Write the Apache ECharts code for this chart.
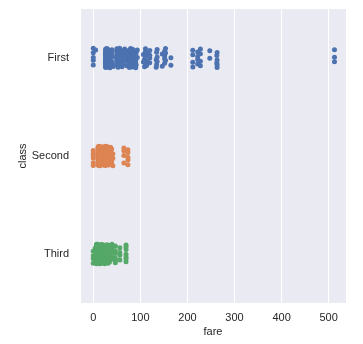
<!DOCTYPE html>
<html><head><meta charset="utf-8">
<script src="https://cdn.jsdelivr.net/npm/echarts@6/dist/echarts.min.js"></script>
<style>html,body{margin:0;padding:0;background:#fff}#c{width:363px;height:344px}</style>
</head><body><div id="c"></div>
<script>
const classes = ['First', 'Second', 'Third'];
const xTicks = [0, 100, 200, 300, 400, 500];

const firstFare = [
 0,0,0,0,0,5,
 25.59,25.93,26,26,26.29,26.29,26.29,26.55,26.55,26.55,26.55,26.55,26.55,26.55,26.55,26.55,26.55,26.55,26.55,26.55,26.55,26.55,
 27.72,27.72,27.72,27.72,27.72,28.5,28.71,29.7,29.7,29.7,30,30,30,30.5,30.5,30.7,30.7,31,31,31,31.68,
 33.5,34.02,34.65,35,35.5,35.5,35.5,35.5,38.5,39.4,39.6,39.6,40.13,40.13,42.4,
 49.5,49.5,49.5,49.5,50,50.5,51.48,51.86,51.86,52,52,52,52.55,52.55,53.1,53.1,53.1,53.1,53.1,
 55,55,55,55.44,55.44,55.9,55.9,56.93,56.93,57,57.98,57.98,59.4,59.4,61.17,61.38,61.98,63.36,66.6,66.6,
 69.3,69.3,71,71,71.28,75.25,76.29,76.73,76.73,76.73,77.29,77.29,77.96,78.27,78.27,78.85,78.85,
 79.2,79.2,79.2,79.2,79.65,79.65,79.65,80,80,81.86,82.17,82.17,83.16,83.16,83.16,83.48,83.48,
 86.5,86.5,86.5,89.1,89.1,90,90,90,90,91.08,91.08,93.5,93.5,
 106.43,106.43,108.9,108.9,110.88,110.88,110.88,110.88,113.28,113.28,113.28,120,120,120,120,
 133.65,133.65,134.5,134.5,135.63,135.63,135.63,146.52,146.52,151.55,151.55,151.55,151.55,153.46,153.46,153.46,164.87,164.87,
 211.34,211.34,211.34,211.5,221.78,221.78,221.78,221.78,227.52,227.52,227.52,227.52,
 247.52,247.52,262.38,262.38,263,263,263,263,
 512.33,512.33,512.33
];

const secondFare = [
 0,0,0,0,0,0,
 10.5,10.5,10.5,10.5,10.5,10.5,10.5,10.5,10.5,10.5,10.5,10.5,10.5,10.5,10.5,10.5,10.5,10.5,10.5,10.5,10.5,10.5,10.5,10.5,
 11.5,11.5,11.5,11.5,12,12,12.35,12.35,12.35,12.65,12.88,
 13,13,13,13,13,13,13,13,13,13,13,13,13,13,13,13,13,13,13,13,13,13,13,13,13,13,13,13,13,13,13,13,13,13,13,13,13,13,13,13,13,13,
 13.5,13.5,13.5,13.5,13.79,13.86,14,14,14.5,14.5,14.5,14.5,15,15.05,15.75,16,16,
 18.75,18.75,18.75,19.5,19.5,21,21,21,21,21,21,23,23,23,23,24,24,
 26,26,26,26,26,26,26,26,26,26,26,26,26,26,26,26,26,26,26,26,26,26,26,26,26,26,26,26,26,26,
 26.25,26.25,26.25,26.25,26.25,26.25,27.72,27.75,27.75,27.75,27.75,29,29,30,30,30.07,30.07,
 31.5,31.5,32.5,32.5,33,33,33,36.75,36.75,37,39,39,39,39,41.58,41.58,41.58,
 65,65,65,65,73.5,73.5,73.5,73.5,73.5
];

const thirdFare = [
 0,0,0,0,4.01,5,6.24,6.44,6.45,6.5,6.75,6.75,6.86,6.95,6.98,
 7.05,7.05,7.05,7.05,7.05,7.13,7.14,7.23,7.23,7.23,7.23,
 7.25,7.25,7.25,7.25,7.25,7.25,7.25,7.25,7.25,7.25,7.31,7.4,7.49,7.52,7.55,7.55,7.55,7.55,7.57,7.63,
 7.65,7.65,7.65,7.65,7.73,7.73,7.73,7.73,7.73,7.73,
 7.75,7.75,7.75,7.75,7.75,7.75,7.75,7.75,7.75,7.75,7.75,7.75,7.75,7.75,7.75,7.75,7.75,7.75,7.75,7.75,
 7.75,7.75,7.75,7.75,7.75,7.75,7.75,7.75,7.75,7.75,
 7.78,7.79,7.79,7.79,7.8,7.85,7.85,7.85,7.85,7.85,7.85,7.88,
 7.9,7.9,7.9,7.9,7.9,7.9,7.9,7.9,7.92,7.92,7.92,7.92,7.92,7.92,7.92,7.92,7.92,7.92,7.92,7.92,7.92,7.92,
 7.93,7.93,7.93,7.93,7.93,8.03,
 8.05,8.05,8.05,8.05,8.05,8.05,8.05,8.05,8.05,8.05,8.05,8.05,8.05,8.05,8.05,8.05,8.05,8.05,8.05,8.05,
 8.05,8.05,8.05,8.05,8.05,8.05,8.05,8.05,8.05,8.05,8.05,8.05,8.05,8.05,8.05,8.05,8.05,8.05,8.05,8.05,
 8.11,8.14,8.16,8.43,8.46,8.52,8.66,8.66,8.66,8.66,8.68,8.71,9,9,9,9.22,9.35,9.35,9.48,
 9.5,9.5,9.5,9.5,9.5,9.5,9.5,9.5,9.5,9.59,9.59,9.82,9.84,9.85,10.17,10.46,10.52,
 11.13,11.13,11.13,11.24,11.24,11.24,11.24,12.29,12.48,13.42,14.4,
 14.45,14.45,14.45,14.45,14.45,14.46,14.46,14.5,14.5,14.5,15.1,15.25,15.25,15.25,
 15.5,15.5,15.5,15.5,15.5,15.5,15.74,15.85,15.9,16.1,16.1,16.1,16.1,16.1,16.1,16.1,16.7,17.8,
 18,18,18,18,19.26,20.21,20.25,20.25,20.25,20.52,20.58,21.08,21.08,21.08,21.08,21.68,22.02,22.36,22.53,
 23.25,23.45,24.15,24.15,24.15,24.15,24.15,24.15,24.15,24.15,25.47,
 27.9,27.9,27.9,27.9,27.9,27.9,29.12,29.12,29.12,29.12,29.12,
 31.27,31.27,31.27,31.27,31.27,31.27,31.27,31.33,31.39,34.38,34.38,34.38,34.38,34.38,
 39.69,39.69,39.69,39.69,39.69,39.69,46.9,46.9,46.9,46.9,46.9,46.9,
 56.5,56.5,56.5,56.5,69.55,69.55,69.55,69.55,69.55,69.55,69.55
];

const colors = ['#4C72B0', '#DD8452', '#55A868'];
const textColor = '#262626';
const fontFamily = "'Liberation Sans', Arial, sans-serif";

// deterministic strip jitter (vertical offset within the category band)
function strip(values, k) {
  return values.map(function (v, i) {
    const u = ((i * 0.6180339887 + 0.37 * k) % 1) * 2 - 1;
    return [v, k + 0.1 * u];
  });
}

const chart = echarts.init(document.getElementById('c'), null, {renderer: 'canvas'});
chart.setOption({
  animation: false,
  grid: {left: 80, right: 17, top: 9, bottom: 41, show: true, backgroundColor: '#EAEAF2', borderWidth: 0},
  xAxis: {
    type: 'value', min: -28.2, max: 536.8,
    name: 'fare', nameLocation: 'middle', nameGap: 23, nameMoveOverlap: false,
    nameTextStyle: {color: textColor, fontSize: 11, fontFamily: fontFamily},
    axisLine: {show: false}, axisTick: {show: false},
    axisLabel: {
      margin: 9, color: textColor, fontSize: 11, fontFamily: fontFamily,
      customValues: xTicks
    },
    splitLine: {show: true, lineStyle: {color: '#ffffff', width: 1}}
  },
  yAxis: [{
    type: 'category', data: classes, inverse: true,
    name: 'class', nameLocation: 'middle', nameGap: 52, nameMoveOverlap: false,
    nameTextStyle: {color: textColor, fontSize: 11, fontFamily: fontFamily},
    axisLine: {show: false}, axisTick: {show: false}, splitLine: {show: false},
    axisLabel: {margin: 11, color: textColor, fontSize: 11, fontFamily: fontFamily}
  }, {
    type: 'value', min: -0.5, max: 2.5, inverse: true, show: false,
    splitLine: {show: false}
  }],
  series: classes.map(function (c, k) {
    const vals = [firstFare, secondFare, thirdFare][k];
    return {
      type: 'scatter', name: c, yAxisIndex: 1, symbolSize: 5,
      itemStyle: {color: colors[k], opacity: 1},
      data: strip(vals, k)
    };
  })
});
</script>
</body></html>
